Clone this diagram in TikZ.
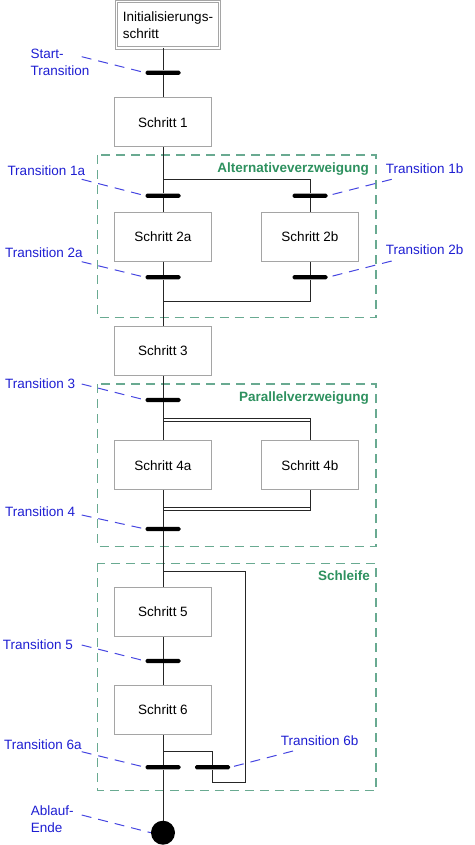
\documentclass[tikz,border=0pt]{standalone}
\usepackage{fontspec}
\setmainfont{Liberation Sans}
\definecolor{lblblue}{RGB}{30,30,210}
\definecolor{leadblue}{RGB}{70,70,225}
\definecolor{grptext}{RGB}{46,145,95}
\definecolor{grpline}{RGB}{105,170,145}
\definecolor{boxgray}{RGB}{165,165,165}
\begin{document}
\begin{tikzpicture}[x=1pt,y=-1pt,font=\fontsize{13.5}{17}\selectfont,
    stepbox/.style={draw=boxgray, line width=1pt, minimum width=97pt, minimum height=49pt, inner sep=0pt},
    transbar/.style={fill=black, minimum width=35pt, minimum height=4.3pt, inner sep=0pt, rounded corners=1.5pt},
    flow/.style={line width=1pt, black!85},
    pflow/.style={line width=0.9pt, black!85, double=white, double distance=2.1pt},
    leader/.style={leadblue, line width=1pt, dash pattern=on 10pt off 7pt},
    lbl/.style={text=lblblue, inner sep=0pt},
    grp/.style={grpline, line width=1.4pt, dash pattern=on 9pt off 6pt},
    grplbl/.style={text=grptext, font=\fontsize{13.5}{17}\selectfont\bfseries, inner sep=0pt, anchor=base east}]
    \useasboundingbox (0,0) rectangle (474,845);

    %Schritte und Transitionen
    \node[draw=boxgray, double, double distance=1.7pt, line width=0.7pt, minimum width=103pt, minimum height=46.5pt, align=left] (init) at (168,24.8) {Initialisierungs-\\schritt};
    \node[transbar] (t0) at (163,72.7) {};
    \node[stepbox] (s1) at (163,122.5) {Schritt 1};
    \node[transbar] (t1a) at (163,195.7) {};
    \node[transbar] (t1b) at (310,195.7) {};
    \node[stepbox] (s2a) at (163,236.7) {Schritt 2a};
    \node[stepbox] (s2b) at (310,236.7) {Schritt 2b};
    \node[transbar] (t2a) at (163,277.3) {};
    \node[transbar] (t2b) at (310,277.3) {};
    \node[stepbox] (s3) at (163,350.5) {Schritt 3};
    \node[transbar] (t3) at (163,400) {};
    \node[stepbox] (s4a) at (163,465.4) {Schritt 4a};
    \node[stepbox] (s4b) at (310,465.4) {Schritt 4b};
    \node[transbar] (t4) at (163,529) {};
    \node[stepbox] (s5) at (163,612) {Schritt 5};
    \node[transbar] (t5) at (163,661) {};
    \node[stepbox] (s6) at (163,710) {Schritt 6};
    \node[transbar] (t6a) at (163,767.3) {};
    \node[transbar] (t6b) at (212.5,767.3) {};
    \node[circle, fill=black, minimum size=24pt, inner sep=0pt] (ende) at (163,832.7) {};

    %Alternativverzweigung
    \draw[grp] (97.3,155) rectangle (376,317.7);
    \node[grplbl] (galt) at (369,173) {Alternativeverzweigung};
    \coordinate (a1) at (163,179.3);
    \coordinate (a2) at (163,301.7);
    \draw[flow] (a1) -- (a1 -| t1b) -- (t1b) -- (s2b) -- (t2b) -- (a2 -| t2b) -- (a2);

    %Parallelverzweigung
    \draw[grp] (97.3,384) rectangle (376,546.7);
    \node[grplbl] (gpar) at (369,401.5) {Parallelverzweigung};
    \coordinate (p1) at (163,420.3);
    \coordinate (p1r) at (310.5,420.3);
    \coordinate (p2) at (163,509.2);
    \coordinate (p2r) at (310.5,509.2);
    \draw[pflow] (p1) -- (p1r);
    \draw[pflow] (p2) -- (p2r);
    \draw[flow] ([yshift=1.5pt]p1r -| s4b) -- (s4b);
    \draw[flow] (s4b) -- ([yshift=-1.5pt]p2r -| s4b);

    %Schleife
    \draw[grp] (97.3,563.3) rectangle (376,790.7);
    \node[grplbl] (gloop) at (370,580.5) {Schleife};
    \coordinate (l1) at (163,571.7);
    \coordinate (l3) at (245,782.7);
    \coordinate (l6) at (163,751);
    \draw[flow] (l6) -- (l6 -| t6b) -- (t6b) -- (t6b |- l3) -- (l3) -- (l3 |- l1) -- (l1);

    %Hauptstrang
    \draw[flow] (init.south -| t0) -- (t0) -- (s1) -- (t1a) -- (s2a) -- (t2a) -- (s3) -- (t3) -- (s4a) -- (t4) -- (s5) -- (t5) -- (s6) -- (t6a) -- (ende);

    %Beschriftungen
    \node[lbl, align=left, anchor=west] (lt0) at (30.5,62) {Start-\\Transition};
    \node[lbl, anchor=base west] (lt1a) at (7.3,175.8) {Transition 1a};
    \node[lbl, anchor=base west] (lt2a) at (5,257.5) {Transition 2a};
    \node[lbl, anchor=base west] (lt1b) at (385.7,173.8) {Transition 1b};
    \node[lbl, anchor=base west] (lt2b) at (385.7,254.1) {Transition 2b};
    \node[lbl, anchor=base west] (lt3) at (5,388.1) {Transition 3};
    \node[lbl, anchor=base west] (lt4) at (5,516.5) {Transition 4};
    \node[lbl, anchor=base west] (lt5) at (2.7,649.8) {Transition 5};
    \node[lbl, anchor=base west] (lt6a) at (4,749.8) {Transition 6a};
    \node[lbl, anchor=base west] (lt6b) at (280.7,745.5) {Transition 6b};
    \node[lbl, align=left, anchor=west] (lende) at (30.7,819.3) {Ablauf-\\Ende};

    \draw[leader] (81.7,56.7) coordinate (c0) -- (t0.west);
    \draw[leader] (81.7,179.3) coordinate (c1a) -- (t1a.west);
    \draw[leader] (81.7,261.7) coordinate (c2a) -- (t2a.west);
    \draw[leader] (391.7,179.3) coordinate (c1b) -- (t1b.east);
    \draw[leader] (391.7,261) coordinate (c2b) -- (t2b.east);
    \draw[leader] (81.7,384) coordinate (c3) -- (t3.west);
    \draw[leader] (81.7,515) coordinate (c4) -- (t4.west);
    \draw[leader] (81.7,645) coordinate (c5) -- (t5.west);
    \draw[leader] (81.7,751.7) coordinate (c6a) -- (t6a.west);
    \draw[leader] (293,751) coordinate (c6b) -- (t6b.east);
    \draw[leader] (81.7,815) coordinate (cende) -- (ende.west);
\end{tikzpicture}
\end{document}
